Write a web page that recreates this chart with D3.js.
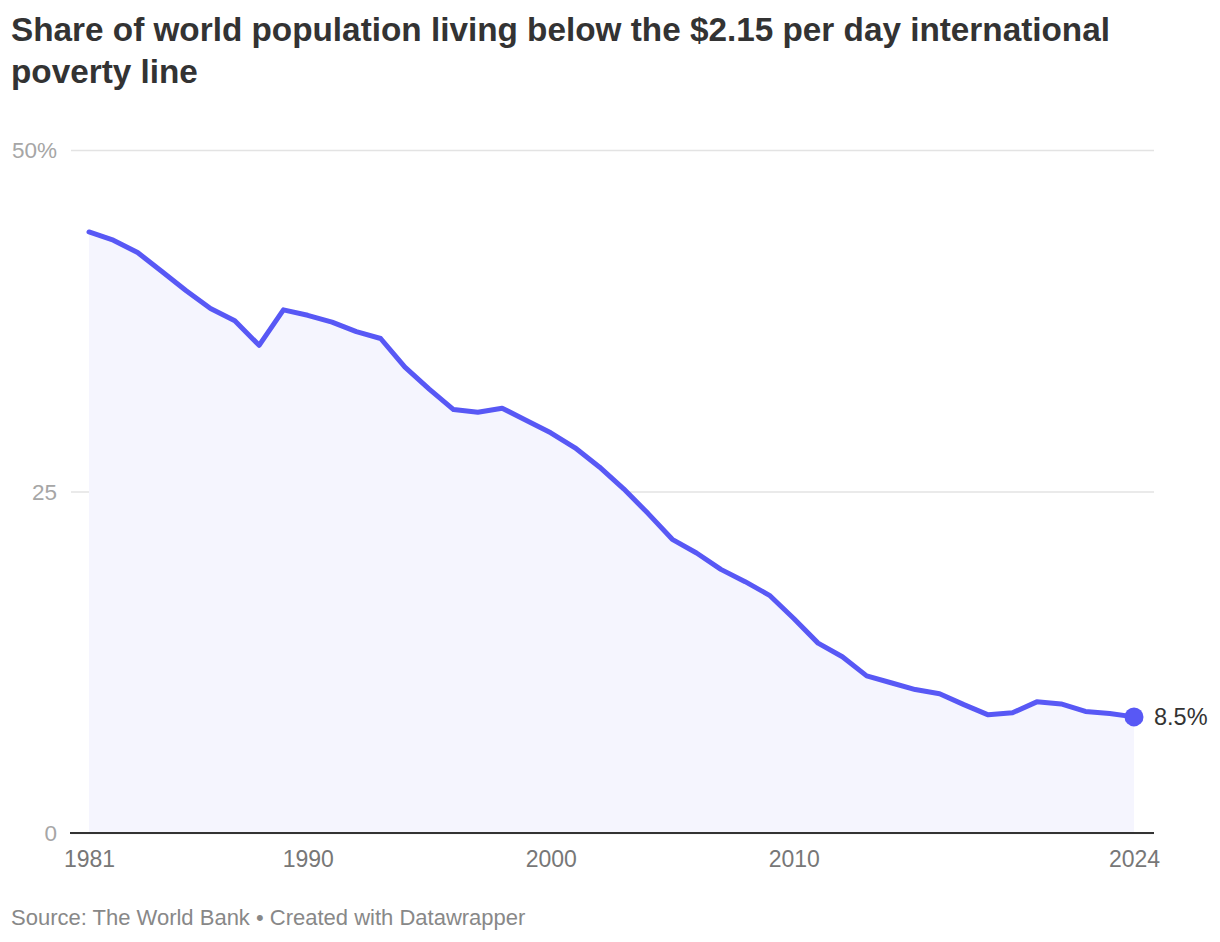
<!DOCTYPE html>
<html>
<head>
<meta charset="utf-8">
<script src="https://cdn.jsdelivr.net/npm/d3@7"></script>
<style>
  body { margin: 0; background: #fff; }
  svg { display: block; font-family: "Liberation Sans", Arial, sans-serif; }
</style>
</head>
<body>
<div id="chart"></div>
<script>
// data
const years = [1981, 1982, 1983, 1984, 1985, 1986, 1987, 1988, 1989, 1990,
               1991, 1992, 1993, 1994, 1995, 1996, 1997, 1998, 1999, 2000,
               2001, 2002, 2003, 2004, 2005, 2006, 2007, 2008, 2009, 2010,
               2011, 2012, 2013, 2014, 2015, 2016, 2017, 2018, 2019, 2020,
               2021, 2022, 2023, 2024];
const share = [44.0, 43.4, 42.5, 41.1, 39.7, 38.4, 37.5, 35.7, 38.3, 37.9,
               37.4, 36.7, 36.2, 34.1, 32.5, 31.0, 30.8, 31.1, 30.2, 29.3,
               28.2, 26.8, 25.2, 23.4, 21.5, 20.5, 19.3, 18.4, 17.4, 15.7,
               13.9, 12.9, 11.5, 11.0, 10.5, 10.2, 9.4, 8.65, 8.8, 9.6,
               9.45, 8.9, 8.75, 8.5];
const xTicks = [1981, 1990, 2000, 2010, 2024];
const yTicks = [0, 25, 50];

const titleLines = ["Share of world population living below the $2.15 per day international",
                    "poverty line"];
const sourceText = "Source: The World Bank \u2022 Created with Datawrapper";

const data = years.map((y, i) => ({ year: y, value: share[i] }));

const width = 1220;
const height = 942;
const lineColor = "#5858f5";

const svg = d3.select("#chart")
    .append("svg")
    .attr("width", width)
    .attr("height", height);

// title
svg.append("text")
    .attr("x", 11)
    .attr("y", 41)
    .attr("fill", "#333")
    .style("font-size", "33.3px")
    .style("font-weight", "bold")
    .selectAll("tspan")
    .data(titleLines)
    .enter()
    .append("tspan")
    .attr("x", 11)
    .attr("dy", (d, i) => i === 0 ? 0 : 42)
    .text(d => d);

// scales
const xScale = d3.scaleLinear()
    .domain([1981, 2024])
    .range([89, 1134]);

const yScale = d3.scaleLinear()
    .domain([0, 50])
    .range([833, 150]);

// grid lines + y labels
const yAxis = svg.append("g")
    .attr("transform", "translate(1154,0)")
    .call(d3.axisLeft(yScale)
        .tickValues(yTicks)
        .tickSize(1154 - 71)
        .tickFormat(d => d === 50 ? "50%" : d));

yAxis.select(".domain").remove();
yAxis.selectAll(".tick line")
    .attr("stroke", "#e3e3e3")
    .attr("stroke-width", 1.5);
yAxis.selectAll(".tick text")
    .attr("x", -(1154 - 57))
    .attr("dy", "0.35em")
    .attr("fill", "#a6a6a6")
    .style("font-size", "22.5px")
    .style("font-family", "'Liberation Sans', Arial, sans-serif");

// area under the line
const area = d3.area()
    .x(d => xScale(d.year))
    .y0(yScale(0))
    .y1(d => yScale(d.value));

svg.append("path")
    .datum(data)
    .attr("d", area)
    .attr("fill", "#f5f5fe");

// baseline
svg.append("line")
    .attr("x1", 70)
    .attr("x2", 1154)
    .attr("y1", yScale(0))
    .attr("y2", yScale(0))
    .attr("stroke", "#333")
    .attr("stroke-width", 2);

// x axis labels
const xAxis = svg.append("g")
    .attr("transform", `translate(0, ${yScale(0)})`)
    .call(d3.axisBottom(xScale)
        .tickValues(xTicks)
        .tickSize(0)
        .tickPadding(18)
        .tickFormat(d3.format("d")));

xAxis.select(".domain").remove();
xAxis.selectAll(".tick text")
    .attr("fill", "#777")
    .style("font-size", "23px")
    .style("font-family", "'Liberation Sans', Arial, sans-serif");

// the line
const line = d3.line()
    .x(d => xScale(d.year))
    .y(d => yScale(d.value));

svg.append("path")
    .datum(data)
    .attr("d", line)
    .attr("fill", "none")
    .attr("stroke", lineColor)
    .attr("stroke-width", 5)
    .attr("stroke-linejoin", "round")
    .attr("stroke-linecap", "round");

// last point + label
const last = data[data.length - 1];
svg.append("circle")
    .attr("cx", xScale(last.year))
    .attr("cy", yScale(last.value))
    .attr("r", 9.5)
    .attr("fill", lineColor);

svg.append("text")
    .attr("x", xScale(last.year) + 20)
    .attr("y", yScale(last.value))
    .attr("dy", "0.35em")
    .attr("fill", "#333")
    .style("font-size", "23.5px")
    .text(d3.format(".1f")(last.value) + "%");

// source line
svg.append("text")
    .attr("x", 11)
    .attr("y", 925)
    .attr("fill", "#888")
    .style("font-size", "22px")
    .text(sourceText);
</script>
</body>
</html>
